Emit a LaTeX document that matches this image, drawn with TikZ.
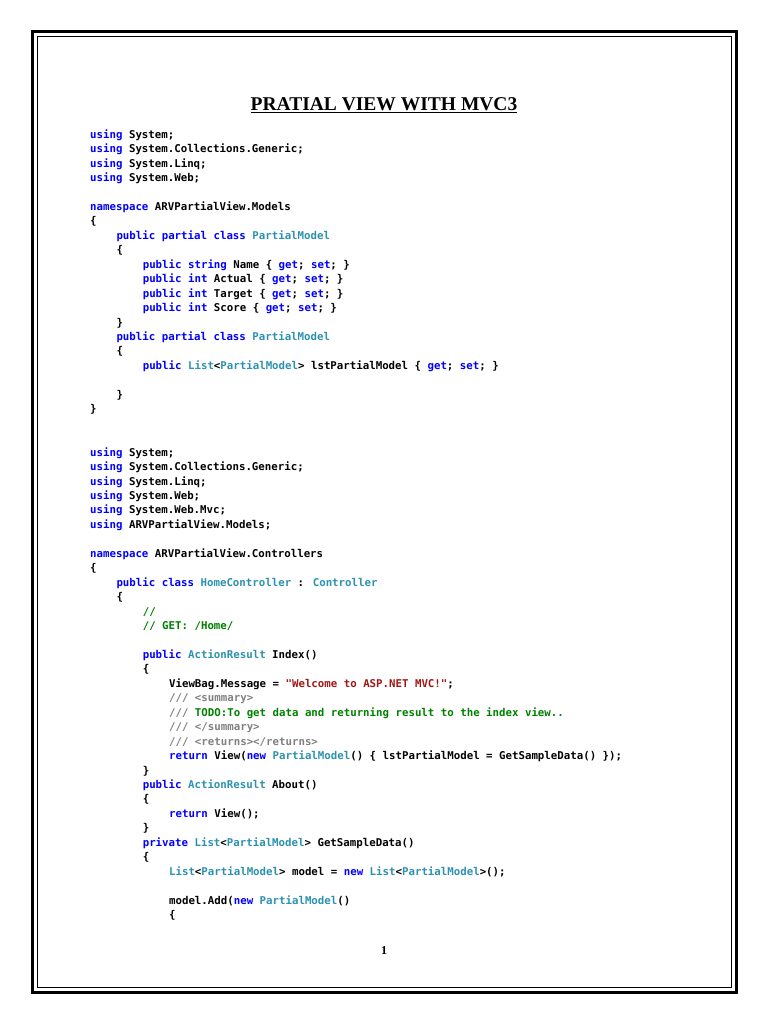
\documentclass[tikz,border=0pt]{standalone}
\usepackage{fontspec}
\setmainfont{Liberation Serif}
\newfontfamily\codef{DejaVu Sans Mono}
\usepackage{xcolor}
\definecolor{kw}{RGB}{0,0,255}
\definecolor{ty}{RGB}{43,145,175}
\definecolor{st}{RGB}{163,21,21}
\definecolor{cm}{RGB}{0,128,0}
\definecolor{gr}{RGB}{128,128,128}
\newcommand\K[1]{\textcolor{kw}{#1}}
\newcommand\T[1]{\textcolor{ty}{#1}}
\newcommand\Sq[1]{\textcolor{st}{#1}}
\newcommand\C[1]{\textcolor{cm}{#1}}
\newcommand\G[1]{\textcolor{gr}{#1}}
\tikzset{codeline/.style={anchor=west,inner sep=0pt,font=\codef\bfseries\fontsize{10.75}{12}\selectfont}}
\begin{document}
\begin{tikzpicture}[x=1pt,y=-1pt]
\useasboundingbox (0,0) rectangle (768,1024);
\draw[line width=3pt] (32,32) rectangle (736,992);
\draw[line width=1pt] (37,37) rectangle (731,987);
\node[font=\bfseries\fontsize{19.5}{22}\selectfont,inner sep=0pt] (title) at (384,105) {\underline{PRATIAL VIEW WITH MVC3}};
\node[font=\bfseries\fontsize{12}{14}\selectfont,inner sep=0pt] (pg) at (384,951) {1};
\def\L#1#2#3{\node[codeline] (l#1) at ({90+26.3*#2},{135+14.45*#1}) {#3};}
\L{0}{0}{\K{using} System;}
\L{1}{0}{\K{using} System.Collections.Generic;}
\L{2}{0}{\K{using} System.Linq;}
\L{3}{0}{\K{using} System.Web;}
\L{5}{0}{\K{namespace} ARVPartialView.Models}
\L{6}{0}{\{}
\L{7}{1}{\K{public partial class} \T{PartialModel}}
\L{8}{1}{\{}
\L{9}{2}{\K{public string} Name \{ \K{get}; \K{set}; \}}
\L{10}{2}{\K{public int} Actual \{ \K{get}; \K{set}; \}}
\L{11}{2}{\K{public int} Target \{ \K{get}; \K{set}; \}}
\L{12}{2}{\K{public int} Score \{ \K{get}; \K{set}; \}}
\L{13}{1}{\}}
\L{14}{1}{\K{public partial class} \T{PartialModel}}
\L{15}{1}{\{}
\L{16}{2}{\K{public} \T{List}<\T{PartialModel}> lstPartialModel \{ \K{get}; \K{set}; \}}
\L{18}{1}{\}}
\L{19}{0}{\}}
\L{22}{0}{\K{using} System;}
\L{23}{0}{\K{using} System.Collections.Generic;}
\L{24}{0}{\K{using} System.Linq;}
\L{25}{0}{\K{using} System.Web;}
\L{26}{0}{\K{using} System.Web.Mvc;}
\L{27}{0}{\K{using} ARVPartialView.Models;}
\L{29}{0}{\K{namespace} ARVPartialView.Controllers}
\L{30}{0}{\{}
\L{31}{1}{\K{public class} \T{HomeController} : \T{Controller}}
\L{32}{1}{\{}
\L{33}{2}{\C{//}}
\L{34}{2}{\C{// GET: /Home/}}
\L{36}{2}{\K{public} \T{ActionResult} Index()}
\L{37}{2}{\{}
\L{38}{3}{ViewBag.Message = \Sq{"Welcome to ASP.NET MVC!"};}
\L{39}{3}{\G{/// <summary>}}
\L{40}{3}{\G{///} \C{TODO:To get data and returning result to the index view..}}
\L{41}{3}{\G{/// </summary>}}
\L{42}{3}{\G{/// <returns></returns>}}
\L{43}{3}{\K{return} View(\K{new} \T{PartialModel}() \{ lstPartialModel = GetSampleData() \});}
\L{44}{2}{\}}
\L{45}{2}{\K{public} \T{ActionResult} About()}
\L{46}{2}{\{}
\L{47}{3}{\K{return} View();}
\L{48}{2}{\}}
\L{49}{2}{\K{private} \T{List}<\T{PartialModel}> GetSampleData()}
\L{50}{2}{\{}
\L{51}{3}{\T{List}<\T{PartialModel}> model = \K{new} \T{List}<\T{PartialModel}>();}
\L{53}{3}{model.Add(\K{new} \T{PartialModel}()}
\L{54}{3}{\{}
\end{tikzpicture}
\end{document}
